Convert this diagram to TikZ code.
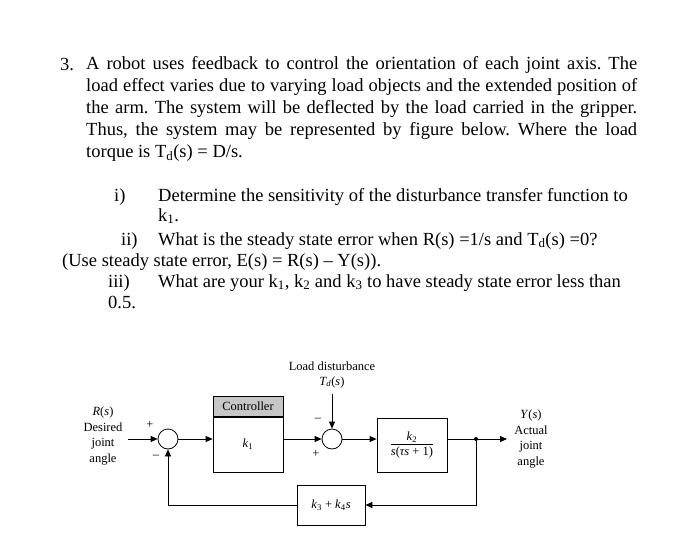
\RequirePackage{fix-cm}
\documentclass[tikz,border=0pt]{standalone}
\usepackage{fontspec}
\setmainfont{Liberation Serif}
\usetikzlibrary{arrows.meta}
\newcommand\myit[1]{\textit{#1}}
\begin{document}
\frenchspacing
\begin{tikzpicture}[x=1pt,y=-1pt,
  txt/.style={anchor=base west,inner sep=0pt,font=\fontsize{18.5}{22}\selectfont},
  blk/.style={draw,thick,minimum width=70pt,inner sep=0pt},
  sum/.style={draw,thick,circle,minimum size=20pt,inner sep=0pt},
  sig/.style={thick,-{Triangle[length=7pt,width=6pt]}},
  lab/.style={font=\fontsize{12.5}{15.5}\selectfont,inner sep=0pt}]
\useasboundingbox (0,0) rectangle (694,544);
% problem text
\node[txt] (n3) at (60,70) {3.};
\node[txt,text width=551pt,align=justify,anchor=north west] (p) at (86,56) {A robot uses feedback to control the orientation of each joint axis. The\linebreak load effect varies due to varying load objects and the extended position of\linebreak the arm. The system will be deflected by the load carried in the gripper.\linebreak Thus, the system may be represented by figure below. Where the load\linebreak torque is T\textsubscript{d}(s) = D/s.};
\node[txt] (i1) at (114,201) {i)};
\node[txt] (i2) at (158,201) {Determine the sensitivity of the disturbance transfer function to};
\node[txt] (i3) at (158,221) {k\textsubscript{1}.};
\node[txt] (ii1) at (121,245) {ii)};
\node[txt] (ii2) at (158,245) {What is the steady state error when R(s) =1/s and T\textsubscript{d}(s) =0?};
\node[txt] (u) at (62,266) {(Use steady state error, E(s) = R(s) -- Y(s)).};
\node[txt] (iii1) at (108,287) {iii)};
\node[txt] (iii2) at (158,287) {What are your k\textsubscript{1}, k\textsubscript{2} and k\textsubscript{3} to have steady state error less than};
\node[txt] (o5) at (108,308) {0.5.};
% diagram
\node[sum] (s1) at (168,439) {};
\node[sum] (s2) at (332,439) {};
\node[blk,minimum height=55pt,lab] (c) at (248,444.5) {\myit{k}\textsubscript{1}};
\node[draw,thick,fill=gray!45,minimum width=70pt,minimum height=20pt,inner sep=0pt,anchor=south,lab] (ch) at (c.north) {Controller};
\node[blk,minimum height=54pt,lab] (g) at (412,445) {\begin{tabular}{@{}c@{}}\myit{k}\textsubscript{2}\\[-1pt]\hline\myit{s}(\myit{τs} + 1)\end{tabular}};
\node[blk,minimum width=68pt,minimum height=40pt,lab] (h) at (331,505) {\myit{k}\textsubscript{3} + \myit{k}\textsubscript{4}\myit{s}};
\coordinate (in) at (128,439);
\coordinate (out) at (507,439);
\coordinate (br) at (476,439);
\coordinate (td) at (332,394);
\fill (br) circle (2pt);
\draw[sig] (in) -- (s1);
\draw[sig] (s1) -- (s1 -| c.west);
\draw[sig] (c.east |- s2) -- (s2);
\draw[sig] (s2) -- (s2 -| g.west);
\draw[sig] (g.east |- br) -- (out);
\draw[sig] (br) |- (h);
\draw[sig] (h) -| (s1);
\draw[sig] (td) -- (s2);
\node[lab] (ld) at (332,366) {Load disturbance};
\node[lab] (tdl) at (332,382) {\myit{T\textsubscript{d}}(\myit{s})};
\node[lab,align=center] (rl) at (103,436) {\myit{R}(\myit{s})\\Desired\\joint\\angle};
\node[lab,align=center] (yl) at (531,439) {\myit{Y}(\myit{s})\\Actual\\joint\\angle};
\node[lab] (p1) at (150,425) {+};
\node[lab] (m1) at (156,457) {--};
\node[lab] (m2) at (318,420) {--};
\node[lab] (p2) at (316,454) {+};
\end{tikzpicture}
\end{document}
